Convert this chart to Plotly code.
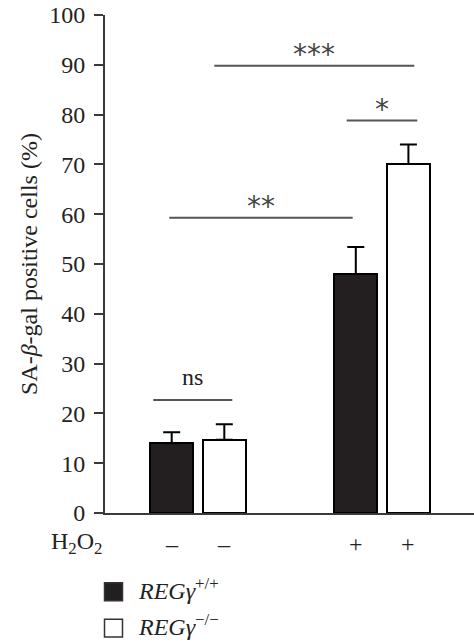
import plotly.graph_objects as go

# ---- data ----
positions = [1, 2, 4.5, 5.5]
values = [14.0, 14.7, 48.0, 70.1]
errors = [2.2, 3.1, 5.4, 3.9]
genotype = ["REGγ+/+", "REGγ−/−", "REGγ+/+", "REGγ−/−"]
h2o2_labels = ["–", "–", "+", "+"]
y_ticks = [0, 10, 20, 30, 40, 50, 60, 70, 80, 90, 100]

# significance brackets: (x0, x1, y, label)
sig_x0 = [0.65, 0.954, 1.81, 4.327]
sig_x1 = [2.152, 4.441, 5.612, 5.669]
sig_y = [22.7, 59.3, 89.8, 78.8]
sig_labels = ["ns", "**", "***", "*"]

FONT = "Liberation Serif"
AX = "#3a3a3a"
BLACK = "#231f20"

fig = go.Figure()

fills = [BLACK if g == "REGγ+/+" else "white" for g in genotype]
fig.add_trace(go.Bar(
    x=positions, y=values, width=0.82,
    marker=dict(color=fills, line=dict(color="black", width=2)),
    error_y=dict(type="data", array=errors, arrayminus=[0]*len(errors),
                 symmetric=False, color="black", thickness=2, width=8.5),
    showlegend=False,
))


def px2paper_x(px):
    return (px - 105) / 369


def px2paper_y(py):
    return (513 - py) / 498


shapes = []
annotations = []
for x0, x1, y, lab in zip(sig_x0, sig_x1, sig_y, sig_labels):
    shapes.append(dict(type="line", xref="x", yref="y", x0=x0, x1=x1, y0=y, y1=y,
                       line=dict(color="#555555", width=2)))
    if lab == "ns":
        annotations.append(dict(xref="x", yref="y", x=(x0 + x1) / 2, y=y + 1.6,
                                text=lab, showarrow=False, yanchor="bottom",
                                font=dict(family=FONT, size=24, color="#222")))
    else:
        annotations.append(dict(xref="x", yref="y", x=(x0 + x1) / 2, y=y - 1.4,
                                text=lab, showarrow=False, yanchor="bottom",
                                font=dict(family="DejaVu Sans", size=28, color="#444")))

# H2O2 row
annotations.append(dict(xref="paper", yref="paper", x=px2paper_x(104), y=px2paper_y(543),
                        xanchor="right", yanchor="middle",
                        text="H<sub>2</sub>O<sub>2</sub>", showarrow=False,
                        font=dict(family=FONT, size=24, color="#222")))
for p, lab in zip(positions, h2o2_labels):
    annotations.append(dict(xref="x", yref="paper", x=p, y=px2paper_y(544),
                            yanchor="middle", text=lab, showarrow=False,
                            font=dict(family=FONT, size=24, color="#222")))

# y-axis title
annotations.append(dict(xref="paper", yref="paper", x=px2paper_x(14), y=px2paper_y(264),
                        textangle=-90, text="SA-<i>β</i>-gal positive cells (%)",
                        showarrow=False,
                        font=dict(family=FONT, size=24, color="#222")))

# legend (drawn manually)
legend_items = [(BLACK, "<i>REGγ</i><sup>+/+</sup>", 582.7, 600.7),
                ("white", "<i>REGγ</i><sup>−/−</sup>", 619.3, 637.0)]
for fc, txt, ytop, ybot in legend_items:
    shapes.append(dict(type="rect", xref="paper", yref="paper",
                       x0=px2paper_x(104.5), x1=px2paper_x(122.5),
                       y0=px2paper_y(ybot), y1=px2paper_y(ytop),
                       fillcolor=fc, line=dict(color="#333", width=1.5)))
    annotations.append(dict(xref="paper", yref="paper", x=px2paper_x(136),
                            y=px2paper_y((ytop + ybot) / 2 - 3), xanchor="left",
                            yanchor="middle", text=txt, showarrow=False,
                            font=dict(family=FONT, size=24, color="#222")))

fig.update_layout(
    width=474, height=644,
    margin=dict(l=105, r=0, t=15, b=131),
    plot_bgcolor="white", paper_bgcolor="white",
    shapes=shapes, annotations=annotations,
    xaxis=dict(range=[-0.268, 6.747], showticklabels=False, showgrid=False,
               zeroline=False, showline=True, linecolor=AX, linewidth=2, ticks=""),
    yaxis=dict(range=[0, 100], tickvals=y_ticks, showgrid=False, zeroline=False,
               showline=True, linecolor=AX, linewidth=2, ticks="outside",
               ticklen=9, tickwidth=2, tickcolor=AX, ticklabelstandoff=4,
               tickfont=dict(family=FONT, size=24, color="#222")),
    bargap=0,
)

fig.write_html("out.html")
